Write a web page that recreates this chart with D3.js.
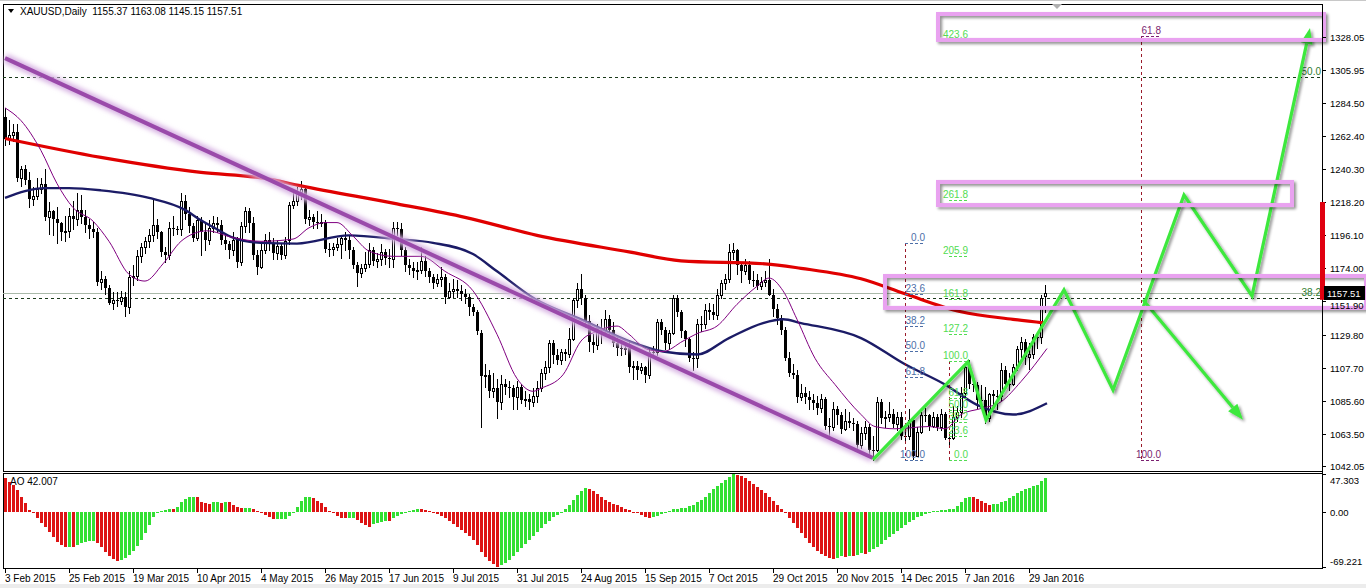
<!DOCTYPE html>
<html><head><meta charset="utf-8">
<script src="https://cdn.jsdelivr.net/npm/d3@7"></script>
<style>
body{margin:0;background:#fff;overflow:hidden}
svg{display:block}
text{font-family:'Liberation Sans',Arial,sans-serif;white-space:pre}
</style>
</head><body>
<svg id="c" width="1366" height="588"></svg>
<script>
// ---------------- DATA ----------------
const symbolTitle = "XAUUSD,Daily";
const tickLabels = ["3 Feb 2015","25 Feb 2015","19 Mar 2015","10 Apr 2015","4 May 2015","26 May 2015","17 Jun 2015","9 Jul 2015","31 Jul 2015","24 Aug 2015","15 Sep 2015","7 Oct 2015","29 Oct 2015","20 Nov 2015","14 Dec 2015","7 Jan 2016","29 Jan 2016"];
const tickStep = 16;

const open = [1275,1260,1263,1265,1234,1240,1233,1220,1222,1227,1230,1208,1212,1207,1204,1198,1199,1209,1207,1213,
1208,1203,1200,1198,1165,1167,1161,1151,1153,1152,1155,1148,1168,1169,1182,1188,1192,1196,1203,1198,
1185,1183,1201,1200,1200,1219,1210,1202,1194,1206,1198,1193,1201,1204,1203,1193,1190,1186,1193,1178,
1202,1212,1204,1183,1175,1186,1193,1191,1184,1189,1183,1193,1216,1219,1225,1227,1207,1208,1205,1204,
1205,1187,1187,1188,1190,1194,1193,1186,1176,1171,1174,1177,1186,1179,1180,1185,1181,1180,1201,1200,
1186,1176,1174,1172,1173,1179,1172,1168,1164,1167,1168,1155,1159,1160,1159,1157,1155,1148,1145,1131,
1102,1103,1092,1094,1085,1097,1095,1094,1088,1095,1086,1087,1085,1089,1094,1104,1108,1124,1116,1113,
1118,1117,1127,1153,1160,1154,1139,1125,1123,1134,1133,1140,1133,1124,1121,1120,1121,1108,1109,1106,
1108,1103,1118,1118,1138,1133,1124,1131,1154,1145,1132,1127,1114,1114,1137,1137,1146,1145,1143,1156,
1164,1167,1185,1186,1176,1172,1176,1166,1166,1162,1165,1166,1156,1147,1141,1133,1114,1104,1103,1088,
1091,1088,1086,1084,1081,1087,1069,1068,1080,1076,1067,1072,1071,1070,1056,1064,1068,1053,1053,1085,
1074,1075,1077,1070,1075,1062,1062,1073,1049,1065,1076,1076,1069,1075,1068,1077,1061,1061,1075,1078,
1091,1108,1097,1096,1086,1086,1074,1090,1089,1089,1106,1097,1097,1108,1120,1125,1115,1117,1128,1128,1155.37];
const high = [1281,1273,1270,1270,1242,1243,1238,1228,1234,1234,1240,1218,1213,1215,1205,1209,1214,1219,1224,1223,
1213,1207,1205,1201,1172,1169,1163,1158,1158,1159,1158,1172,1176,1186,1191,1195,1200,1220,1207,1199,
1188,1205,1209,1202,1224,1223,1215,1204,1209,1208,1204,1206,1209,1208,1206,1197,1192,1198,1195,1205,
1215,1214,1208,1186,1190,1197,1198,1194,1193,1190,1195,1218,1227,1228,1232,1228,1213,1210,1212,1210,
1206,1191,1191,1194,1196,1198,1196,1188,1178,1177,1185,1191,1188,1184,1190,1187,1187,1205,1205,1204,
1188,1180,1178,1178,1188,1182,1174,1170,1170,1175,1170,1164,1167,1166,1163,1160,1157,1150,1146,1133,
1110,1106,1104,1100,1103,1100,1099,1096,1099,1097,1092,1090,1094,1099,1107,1112,1126,1126,1120,1120,
1120,1134,1154,1164,1170,1156,1143,1130,1137,1140,1146,1143,1138,1128,1124,1125,1126,1112,1112,1111,
1109,1120,1122,1140,1140,1135,1133,1156,1156,1146,1133,1128,1118,1140,1142,1150,1151,1150,1160,1166,
1170,1190,1191,1187,1178,1180,1179,1172,1170,1168,1172,1180,1160,1150,1143,1135,1118,1110,1106,1097,
1095,1092,1090,1089,1090,1088,1074,1085,1082,1078,1080,1078,1074,1072,1068,1072,1070,1062,1088,1087,
1079,1085,1080,1078,1078,1066,1080,1074,1068,1078,1081,1077,1078,1077,1080,1078,1065,1082,1082,1095,
1111,1113,1100,1098,1096,1095,1091,1093,1093,1111,1109,1104,1110,1122,1128,1127,1124,1130,1131,1156,1163.08];
const low = [1256,1257,1259,1232,1229,1230,1215,1216,1220,1224,1206,1197,1196,1191,1193,1192,1195,1200,1203,1204,
1198,1194,1195,1163,1160,1157,1150,1147,1149,1150,1142,1144,1163,1166,1178,1184,1188,1192,1194,1182,
1178,1180,1196,1197,1196,1207,1198,1192,1193,1183,1186,1190,1198,1198,1190,1187,1181,1183,1175,1176,
1198,1198,1180,1170,1174,1184,1186,1180,1180,1180,1181,1190,1214,1216,1220,1204,1203,1201,1201,1202,
1185,1182,1183,1186,1181,1186,1181,1174,1162,1168,1172,1175,1176,1175,1176,1177,1175,1175,1196,1183,
1172,1170,1168,1167,1171,1169,1165,1161,1162,1162,1151,1154,1155,1155,1153,1151,1143,1143,1130,1068,
1095,1088,1088,1074,1080,1090,1088,1080,1080,1084,1082,1080,1082,1085,1092,1100,1105,1111,1110,1110,
1113,1115,1126,1148,1150,1135,1119,1118,1120,1124,1130,1130,1122,1116,1116,1117,1105,1100,1100,1104,
1098,1101,1115,1116,1130,1120,1120,1130,1142,1128,1122,1112,1106,1108,1132,1134,1140,1140,1140,1154,
1160,1165,1180,1170,1165,1170,1164,1162,1160,1160,1162,1156,1142,1137,1130,1113,1102,1101,1085,1086,
1084,1080,1080,1077,1078,1067,1063,1066,1070,1064,1066,1068,1066,1052,1054,1060,1050,1046,1052,1071,
1068,1072,1068,1066,1060,1058,1060,1047,1049,1064,1072,1066,1068,1066,1066,1060,1057,1060,1072,1075,
1088,1094,1092,1081,1083,1071,1072,1083,1080,1086,1094,1093,1096,1106,1115,1110,1107,1114,1121,1124,1145.15];
const close = [1260,1263,1265,1234,1240,1233,1220,1222,1227,1230,1208,1212,1207,1204,1198,1199,1209,1207,1213,1208,
1203,1200,1198,1165,1167,1161,1151,1153,1152,1155,1148,1168,1169,1182,1188,1192,1196,1203,1198,1185,
1183,1201,1200,1200,1219,1210,1202,1194,1206,1198,1193,1201,1204,1203,1193,1190,1186,1193,1178,1202,
1212,1204,1183,1175,1186,1193,1191,1184,1189,1183,1192,1216,1219,1225,1227,1207,1208,1205,1204,1205,
1187,1187,1188,1190,1194,1193,1186,1176,1171,1174,1177,1186,1179,1180,1185,1181,1180,1201,1200,1186,
1176,1174,1172,1173,1179,1172,1168,1164,1167,1168,1155,1159,1160,1159,1157,1155,1148,1145,1132,1102,
1103,1092,1094,1085,1097,1095,1094,1088,1095,1086,1087,1085,1089,1094,1104,1108,1124,1116,1113,1118,
1117,1127,1153,1160,1154,1139,1125,1123,1134,1133,1140,1133,1124,1121,1120,1121,1108,1109,1106,1108,
1103,1118,1118,1138,1133,1124,1131,1154,1145,1132,1127,1114,1114,1137,1137,1146,1145,1143,1156,1164,
1167,1185,1186,1176,1172,1176,1166,1166,1162,1165,1166,1156,1147,1141,1133,1114,1104,1103,1088,1091,
1088,1086,1084,1081,1087,1069,1068,1080,1076,1067,1072,1071,1070,1056,1064,1068,1053,1053,1085,1074,
1075,1077,1070,1075,1062,1062,1073,1049,1065,1076,1076,1069,1075,1068,1077,1061,1061,1075,1078,1091,
1108,1097,1096,1086,1086,1074,1090,1089,1089,1106,1097,1097,1108,1120,1125,1115,1117,1128,1128,1154,1157.51];

const ao = [41.7,37.6,33.4,27.1,18.8,10.4,2.1,-0.8,-8.3,-14.6,-18.8,-25,-31.3,-37.6,-41.7,-44.2,-43.8,-44.7,-41.7,-38.9,
-37.6,-36.7,-36.6,-39.7,-44.7,-50.1,-55.6,-59.7,-61.4,-60.5,-58.4,-54.3,-49.3,-43,-35.5,-27.1,-16.7,-6.3,-1.3,1.3,
2.1,3.0,2.9,5.4,11.7,15.4,18.0,18.8,18.7,12.6,10.4,10.3,11.7,12.1,11.3,12.1,12.0,8.3,5.4,4.2,
4.3,4.6,3.0,0.5,-1.3,-4.2,-6.3,-9.6,-8.8,-8.6,-8.5,-5.4,0,6.3,13.4,18.0,18.8,16.7,13.8,10.4,
6.3,1.3,-2.1,-5.0,-8.3,-8.4,-8.3,-8.2,-10.4,-13.8,-16.7,-18.8,-15.4,-13.8,-12.6,-11.3,-11.4,-8.3,-5.4,
-3,-1,1,2,3,3,2,1,-1,-3,-5,-8,-11,
-15,-19,-23,-27,-31,-36,-42,-50,-57,-62,-66,-69.2,
-67,-64,-60,-55,-50,-45,-40,-35,-30,-25,-20,-15,-11,-7,-4,-1,
3,9,15,21,26,30,29,26,22,18,15,12,10,8,6,4,2,0,
-2,-4,-6,-8,-7,-5,-3,
-1,1,3,4,4.5,5,7,9,12,15,19,23,28,32,36,40,43,47.3,46,45,
42,38,35,31,27,23,18,13,8,3,-2,
-8,-14,-20,-27,-33,-39,-44,-49,-53,-56,-58,-59,-58,-56,-57,-55,-56,-54,-52,-53,-50,
-47,-44,-40,-36,-32,-28,-24,-20,-16,-13,-10,-7,-5,-3,-1,0.5,
1,2,2.5,3,4,7,12,17,
19,18,16,13,11,9,9.5,10,12,14,
17,20,23,26,28,30,32,34,38,42.007];

// moving averages as [barIndex, price]
const maSlow = [[0,1260.6],[24,1248],[49,1238],[65,1234],[74,1229],[98,1217],[115,1208],[133,1196],[156,1185],[169,1179],[190,1177],[199,1174],[214,1167],[225,1157],[239,1145],[252,1140],[260,1137.5]];
const maMid = [[0,1221],[10,1227.5],[16,1227.5],[24,1226],[36,1221],[45,1213],[49,1206],[53,1200],[57,1194.5],[64,1191],[73,1190.5],[86,1196],[98,1193.5],[107,1191],[117,1183.5],[123,1172],[132.5,1153.5],[144,1140],[156,1125.5],[164.5,1118.5],[173,1116.5],[181,1127.5],[189.5,1137.5],[194.5,1140],[199,1137.5],[214,1127.5],[225,1110],[235,1096.5],[243,1083],[252,1076.5],[260.5,1084]];
const maFast = [[0,1281],[4,1272.5],[9,1252.5],[13,1230.5],[17,1214.5],[22,1205.5],[26,1192],[31,1170],[35,1165.5],[39.5,1177],[44,1192],[47,1197],[50.5,1199],[57,1194.5],[64,1192],[72,1193.5],[76,1201],[80,1204.5],[83,1204.5],[87,1195.5],[91,1185.5],[97,1182],[104,1182],[110,1172],[117,1159],[123,1130],[128,1100.5],[132,1092],[134,1094],[139.5,1103],[144,1125.5],[148,1132],[153,1135.5],[156,1130],[160.5,1120],[164.5,1118.5],[169.5,1125.5],[173,1130.5],[178,1135.5],[183,1150],[188,1162],[191,1167.5],[194.5,1159],[198,1140],[202.5,1114],[207.5,1096.5],[214,1076.5],[217.5,1068.5],[222.5,1067],[231,1068.5],[235,1067],[239,1076.5],[244,1080.5],[249,1085],[254,1098.5],[260.5,1120.5]];

const priceTicks = [1328.05,1305.95,1284.50,1262.40,1240.30,1218.20,1196.10,1174.00,1151.90,1129.80,1107.70,1085.60,1063.50,1042.05];
const aoTicks = [47.303,0,-69.221];
const aoTickLabels = ["47.303","0.00","-69.221"];

// drawn objects (bar index, price)
const trendLine = [[0,1314.2],[217,1047.5]];
const zigzagMain = [[217,1046.5],[240.75,1111.6],[245.25,1072.9],[264.75,1159.6],[277,1092.9],[294.75,1222.9],[311.75,1155.6],[326.25,1334.3]];
const zigzagBranch = [[284.5,1153],[309.5,1073]];
const boxes = [[233.25,329.75,1343.6,1326.3],[233.25,321.75,1231.6,1216.2],[220,340.25,1168.9,1147.6]];
const fibRetLevels = [0,23.6,38.2,50,61.8,100];
const fibRet = {bar:225, labelEnd:230, p0:1191, p100:1046.5};
const fibExpLevels = [0,23.6,38.2,50,61.8,100,127.2,161.8,205.9,261.8,423.6];
const fibExp = {bar:236, labelEnd:240.75, p0:1046.5, p100:1112.5};
const fibTop = {bar:284, labelEnd:289, levels:[["61.8",1329],["100.0",1046]]};
const fullLevels = [["50.0",1301.5],["38.2",1154]];
const rangeBar = [1153,1218.2];

// ---------------- CHART ----------------
const svg = d3.select("#c");
const W = 1366, H = 588;
const left = 3, axisX = 1322, pTop = 4, pBot = 471, aTop = 473, aBot = 568;
const n = close.length;
const x = d3.scaleLinear().domain([0, 260]).range([5, 1045]);
const yP = d3.scaleLinear().domain([1042.05, 1328.05]).range([466.2, 37.3]);
const yA = d3.scaleLinear().domain([-69.221, 47.303]).range([567, 474]);
const R = v => Math.round(v);

const defs = svg.append("defs");
const sh = defs.append("filter").attr("id","shadow").attr("x","-20%").attr("y","-20%").attr("width","140%").attr("height","140%");
sh.append("feGaussianBlur").attr("in","SourceAlpha").attr("stdDeviation",1.6).attr("result","b");
sh.append("feOffset").attr("in","b").attr("dx",2).attr("dy",2).attr("result","o");
sh.append("feComponentTransfer").attr("in","o").attr("result","o2").append("feFuncA").attr("type","linear").attr("slope",0.45);
const mg = sh.append("feMerge"); mg.append("feMergeNode").attr("in","o2"); mg.append("feMergeNode").attr("in","SourceGraphic");
const gl = defs.append("filter").attr("id","glow").attr("x","-10%").attr("y","-10%").attr("width","120%").attr("height","120%");
gl.append("feGaussianBlur").attr("stdDeviation",2.5);

svg.append("rect").attr("width",W).attr("height",H).attr("fill","#fff");
svg.append("rect").attr("x",0).attr("y",584).attr("width",W).attr("height",4).attr("fill","#ececec");
svg.append("line").attr("x1",0).attr("x2",W).attr("y1",0.5).attr("y2",0.5).attr("stroke","#c8c8c8");

// frames
const frame = svg.append("g").attr("fill","none").attr("stroke","#000").attr("shape-rendering","crispEdges");
frame.append("rect").attr("x",left+0.5).attr("y",pTop+0.5).attr("width",axisX-left).attr("height",pBot-pTop);
frame.append("rect").attr("x",left+0.5).attr("y",aTop+0.5).attr("width",axisX-left).attr("height",aBot-aTop);

// full-width level lines
const lv = svg.append("g");
fullLevels.forEach(([t,p])=>{
  lv.append("line").attr("x1",left).attr("x2",axisX).attr("y1",R(yP(p))+0.5).attr("y2",R(yP(p))+0.5)
    .attr("stroke","#1a3a1a").attr("stroke-dasharray","3,3").attr("shape-rendering","crispEdges");
});
// bid line
lv.append("line").attr("x1",left).attr("x2",axisX).attr("y1",R(yP(close[n-1]))+0.5).attr("y2",R(yP(close[n-1]))+0.5)
  .attr("stroke","#a9b9a9").attr("shape-rendering","crispEdges");

// candles
const cg = svg.append("g").attr("shape-rendering","crispEdges");
for (let i=0;i<n;i++){
  const xi = R(x(i));
  cg.append("line").attr("x1",xi+0.5).attr("x2",xi+0.5).attr("y1",R(yP(high[i]))).attr("y2",R(yP(low[i]))+1).attr("stroke","#000");
  const top = R(yP(Math.max(open[i],close[i]))), bot = R(yP(Math.min(open[i],close[i])));
  if (close[i] >= open[i]) {
    cg.append("rect").attr("x",xi-0.5).attr("y",top+0.5).attr("width",2).attr("height",Math.max(bot-top,0.01))
      .attr("fill","#fff").attr("stroke","#000");
  } else {
    cg.append("rect").attr("x",xi-1).attr("y",top).attr("width",3).attr("height",Math.max(bot-top,1)).attr("fill","#000");
  }
}

// moving averages
const lineGen = d3.line().x(d=>x(d[0])).y(d=>yP(d[1])).curve(d3.curveMonotoneX);
svg.append("path").datum(maSlow).attr("d",lineGen).attr("fill","none").attr("stroke","#e00000").attr("stroke-width",3.2);
svg.append("path").datum(maMid).attr("d",lineGen).attr("fill","none").attr("stroke","#1b1b66").attr("stroke-width",2.4);
svg.append("path").datum(maFast).attr("d",lineGen).attr("fill","none").attr("stroke","#800080").attr("stroke-width",1);

// trend line
const straight = d3.line().x(d=>x(d[0])).y(d=>yP(d[1]));
svg.append("path").datum(trendLine).attr("d",straight).attr("stroke","#d6b0e2").attr("stroke-width",9).attr("fill","none").attr("filter","url(#glow)");
svg.append("path").datum(trendLine).attr("d",straight).attr("stroke","#9a4aaa").attr("stroke-width",4).attr("fill","none");

// fib objects
const fg = svg.append("g").style("font-size","10px");
function fibLabel(bar, labelEnd, p, txt, col){
  const yy = R(yP(p));
  fg.append("line").attr("x1",x(bar)).attr("x2",x(labelEnd)).attr("y1",yy+0.5).attr("y2",yy+0.5)
    .attr("stroke",col).attr("stroke-dasharray","3,2").attr("shape-rendering","crispEdges");
  fg.append("text").attr("x",x(labelEnd)).attr("y",yy-2).attr("text-anchor","end").attr("fill",col).text(txt);
}
function vdash(bar,p1,p2){
  fg.append("line").attr("x1",R(x(bar))+0.5).attr("x2",R(x(bar))+0.5).attr("y1",yP(p1)).attr("y2",yP(p2))
    .attr("stroke","#9a1a2a").attr("stroke-dasharray","3,3").attr("shape-rendering","crispEdges");
}
vdash(fibRet.bar, fibRet.p0, fibRet.p100);
fibRetLevels.forEach(l=>fibLabel(fibRet.bar, fibRet.labelEnd, fibRet.p0 + (fibRet.p100-fibRet.p0)*l/100, l.toFixed(1), "#4d6fa8"));
vdash(fibExp.bar, fibExp.p100, fibExp.p0);
fibExpLevels.forEach(l=>fibLabel(fibExp.bar, fibExp.labelEnd, fibExp.p0 + (fibExp.p100-fibExp.p0)*l/100, l.toFixed(1), "#52dc52"));
vdash(fibTop.bar, fibTop.levels[0][1], fibTop.levels[1][1]);
fibTop.levels.forEach(([t,p])=>fibLabel(fibTop.bar, fibTop.labelEnd, p, t, "#7a1f70"));
fullLevels.forEach(([t,p])=>{
  fg.append("text").attr("x",axisX-1).attr("y",R(yP(p))-2).attr("text-anchor","end").attr("fill","#2f7d2f").text(t);
});

// zigzag forecast
const zz = svg.append("g").attr("filter","url(#shadow)");
function arrowHead(a,b){
  const x1=x(a[0]),y1=yP(a[1]),x2=x(b[0]),y2=yP(b[1]);
  const ang=Math.atan2(y2-y1,x2-x1), L=16, Wd=6;
  const bx=x2-L*Math.cos(ang), by=y2-L*Math.sin(ang);
  const p=[[x2,y2],[bx+Wd*Math.sin(ang),by-Wd*Math.cos(ang)],[bx-Wd*Math.sin(ang),by+Wd*Math.cos(ang)]];
  zz.append("path").attr("d","M"+p.map(q=>q.join(",")).join("L")+"Z").attr("fill","#3ee83e");
  return [bx,by];
}
const mainPts = zigzagMain.map(d=>[x(d[0]),yP(d[1])]);
const endA = arrowHead(zigzagMain[zigzagMain.length-2], zigzagMain[zigzagMain.length-1]);
mainPts[mainPts.length-1] = endA;
zz.append("path").attr("d",d3.line()(mainPts)).attr("fill","none").attr("stroke","#3ee83e").attr("stroke-width",3.2).attr("stroke-linejoin","miter");
const brPts = zigzagBranch.map(d=>[x(d[0]),yP(d[1])]);
brPts[1] = arrowHead(zigzagBranch[0], zigzagBranch[1]);
zz.append("path").attr("d",d3.line()(brPts)).attr("fill","none").attr("stroke","#3ee83e").attr("stroke-width",3.2);

// boxes
const bg = svg.append("g").attr("filter","url(#shadow)");
boxes.forEach(b=>{
  bg.append("rect").attr("x",x(b[0])).attr("y",yP(b[2])).attr("width",x(b[1])-x(b[0])).attr("height",yP(b[3])-yP(b[2]))
    .attr("fill","none").attr("stroke","#e9a2f0").attr("stroke-width",4);
});

// AO histogram
const ag = svg.append("g").attr("shape-rendering","crispEdges");
for (let i=0;i<n;i++){
  const up = i>0 ? ao[i] > ao[i-1] : false;
  const y0 = R(yA(0)), y1 = R(yA(ao[i]));
  ag.append("rect").attr("x",R(x(i))-1).attr("width",3).attr("y",Math.min(y0,y1)).attr("height",Math.max(Math.abs(y1-y0),1))
    .attr("fill", up ? "#33e033" : "#dd1414");
}
svg.append("text").attr("x",10).attr("y",485).style("font-size","10px").attr("fill","#000").text("AO " + ao[n-1].toFixed(3));

// right axis
const ax = svg.append("g").style("font-size","9.5px");
ax.append("line").attr("x1",axisX+0.5).attr("x2",axisX+0.5).attr("y1",pTop).attr("y2",aBot+1).attr("stroke","#000").attr("shape-rendering","crispEdges");
const cy = R(yP(close[n-1]));
priceTicks.forEach(p=>{
  const yy = R(yP(p));
  ax.append("line").attr("x1",axisX).attr("x2",axisX+4).attr("y1",yy+0.5).attr("y2",yy+0.5).attr("stroke","#000").attr("shape-rendering","crispEdges");
  // label nudged below the current-price tag when they would collide
  const ly = Math.abs(yy - cy) < 12 ? cy + 12 : yy;
  ax.append("text").attr("x",axisX+8).attr("y",ly+3.5).attr("fill","#000").text(p.toFixed(2));
});
aoTicks.forEach((v,k)=>{
  const yy = k===0 ? 480 : (k===2 ? 561 : R(yA(v)));
  ax.append("line").attr("x1",axisX).attr("x2",axisX+4).attr("y1",R(yA(v))+0.5).attr("y2",R(yA(v))+0.5).attr("stroke","#000").attr("shape-rendering","crispEdges");
  ax.append("text").attr("x",axisX+8).attr("y",yy+3.5).attr("fill","#000").text(aoTickLabels[k]);
});
// range bar
ax.append("rect").attr("x",axisX-2).attr("width",5).attr("y",yP(rangeBar[1])).attr("height",yP(rangeBar[0])-yP(rangeBar[1])).attr("fill","#e00010");
// current price tag
ax.append("rect").attr("x",axisX+2).attr("y",cy-7).attr("width",41).attr("height",14).attr("fill","#000");
ax.append("text").attr("x",axisX+5).attr("y",cy+3.5).attr("fill","#fff").text(close[n-1].toFixed(2));

// time axis
const tx = svg.append("g").style("font-size","10px");
tickLabels.forEach((t,k)=>{
  const xi = R(x(k*tickStep));
  tx.append("line").attr("x1",xi+0.5).attr("x2",xi+0.5).attr("y1",aBot).attr("y2",aBot+5).attr("stroke","#000").attr("shape-rendering","crispEdges");
  tx.append("text").attr("x",xi).attr("y",582).attr("fill","#000").text(t);
});

// header
svg.append("path").attr("d","M8,9 L14,9 L11,13 Z").attr("fill","#000");
svg.append("text").attr("x",20).attr("y",15).style("font-size","10px").attr("fill","#000")
  .text(symbolTitle + "  " + [open[n-1],high[n-1],low[n-1],close[n-1]].map(v=>v.toFixed(2)).join(" "));
// chart shift marker
svg.append("path").attr("d","M1052,4 L1062,4 L1057,9 Z").attr("fill","#b0b0b0");
</script>
</body></html>
